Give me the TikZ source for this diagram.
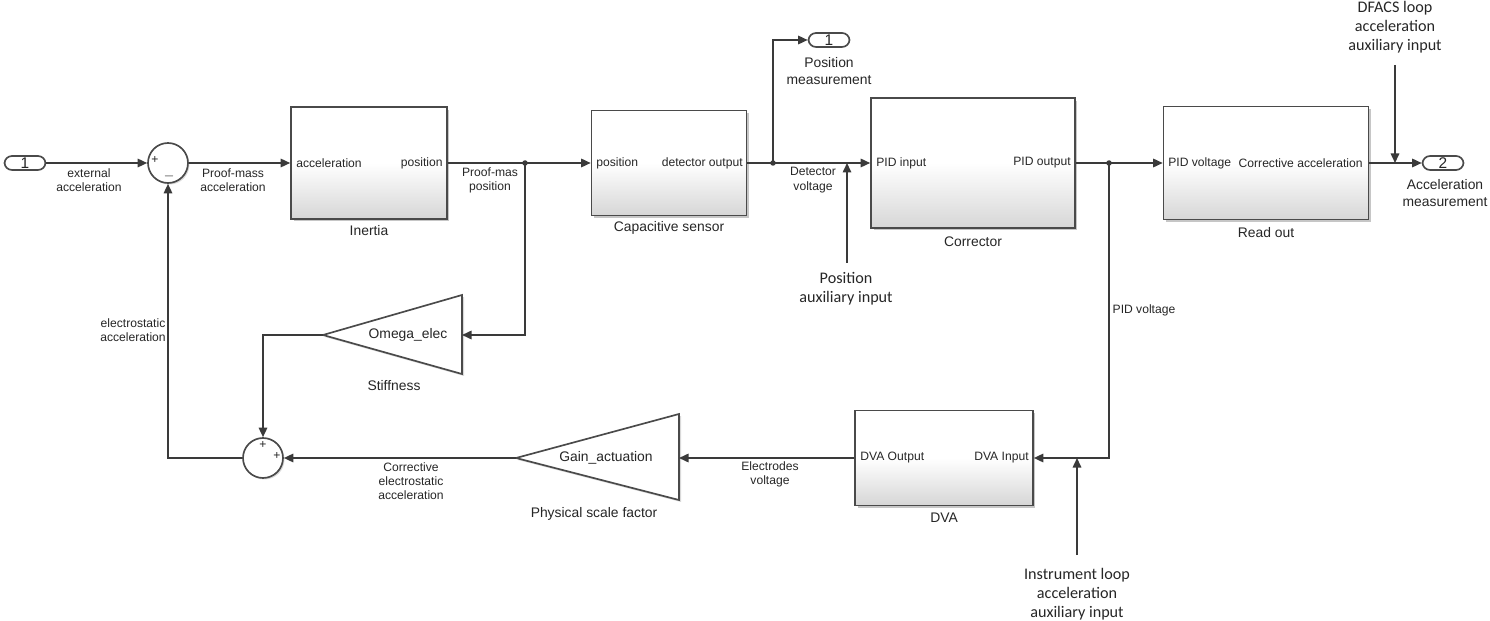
\documentclass[tikz,border=0pt]{standalone}
\usepackage{fontspec}
\setmainfont{Liberation Sans}
\newfontfamily\calib{Carlito}
\usetikzlibrary{arrows.meta,shadows}
\definecolor{linec}{HTML}{3A3A3A}
\definecolor{bordc}{HTML}{4A4A4A}
\definecolor{txtc}{HTML}{262626}
\begin{document}
\begin{tikzpicture}[x=0.02cm,y=-0.02cm,
  wire/.style={draw=linec, line width=0.9pt},
  arr/.style={wire, -{Triangle[length=0.19cm,width=0.17cm]}},
  block/.style={draw=bordc, line width=0.95pt, top color=white, bottom color=gray!32, middle color=white,
    drop shadow={shadow xshift=0.05cm, shadow yshift=-0.05cm, opacity=0.45}, inner sep=0pt},
  tri/.style={draw=bordc, line width=0.95pt, fill=white, line join=miter,
    drop shadow={shadow xshift=0.04cm, shadow yshift=-0.04cm, opacity=0.3}},
  sumblk/.style={circle, draw=bordc, line width=0.95pt, fill=white, minimum size=0.8cm, inner sep=0pt,
    drop shadow={shadow xshift=0.03cm, shadow yshift=-0.03cm, opacity=0.3}},
  port/.style={draw=bordc, line width=0.95pt, fill=white, rounded corners=0.15cm, minimum width=0.82cm,
    minimum height=0.28cm, inner sep=0pt, font=\fontsize{8.8}{9}\selectfont, text=txtc},
  lbl/.style={font=\fontsize{6.9}{8.1}\selectfont, align=center, text=txtc, inner sep=0pt},
  nlbl/.style={font=\fontsize{7.9}{9.2}\selectfont, align=center, text=txtc, inner sep=0pt},
  plbl/.style={font=\fontsize{6.9}{8.1}\selectfont, text=txtc, inner sep=0pt},
  aux/.style={font=\calib\fontsize{9.2}{10.9}\selectfont, align=center, text=txtc, inner sep=0pt},
  dot/.style={fill=linec}
]
\useasboundingbox (0,0) rectangle (1490,621);

% ---- blocks
\node[block, minimum width=3.12cm, minimum height=2.24cm] (inertia) at (369,163) {};
\node[block, minimum width=3.10cm, minimum height=2.10cm] (cap) at (669,163) {};
\node[block, minimum width=4.08cm, minimum height=2.60cm] (corr) at (973,163) {};
\node[block, minimum width=4.10cm, minimum height=2.26cm] (readout) at (1266,163) {};
\node[block, minimum width=3.56cm, minimum height=1.90cm] (dva) at (944,458) {};

% port labels
\node[plbl, anchor=west] (pi1) at (296,163) {acceleration};
\node[plbl, anchor=east] (po1) at (443,163) {position};
\node[plbl, anchor=west] (pi2) at (596,163) {position};
\node[plbl, anchor=east] (po2) at (743,163) {detector output};
\node[plbl, anchor=west] (pi3) at (876,163) {PID input};
\node[plbl, anchor=east] (po3) at (1071,163) {PID output};
\node[plbl, anchor=west] (pi4) at (1168,163) {PID voltage};
\node[plbl, anchor=east] (po4) at (1363,163) {Corrective acceleration};
\node[plbl, anchor=west] (pi5) at (860,458) {DVA Output};
\node[plbl, anchor=east] (po5) at (1029,458) {DVA Input};

% block names
\node[nlbl] (ninertia) at (369,231) {Inertia};
\node[nlbl] (ncap) at (669,228) {Capacitive sensor};
\node[nlbl] (ncorr) at (973,242) {Corrector};
\node[nlbl] (nread) at (1266,233) {Read out};
\node[nlbl] (ndva) at (944,518) {DVA};

% ---- triangles (gains)
\draw[tri] (462,295) -- (462,374) -- (323,335) -- cycle;
\coordinate (ob) at (462,335);
\coordinate (ot) at (323,335);
\node[nlbl] (omtxt) at (408,335) {Omega\_elec};
\node[nlbl] (stiff) at (394,386) {Stiffness};

\draw[tri] (679,414) -- (679,500) -- (516,458) -- cycle;
\coordinate (gb) at (679,458);
\coordinate (gt) at (516,458);
\node[nlbl] (gtxt) at (606,458) {Gain\_actuation};
\node[nlbl] (psf) at (594,514) {Physical scale factor};

% ---- sums
\node[sumblk] (s1) at (168,163) {};
\node[lbl] (s1p) at (155,160) {+};
\node[lbl] (s1m) at (169,176) {$-$};
\node[sumblk] (s2) at (263,458) {};
\node[lbl] (s2p1) at (263,445) {+};
\node[lbl] (s2p2) at (277,456) {+};

% ---- in/out ports
\node[port] (in1) at (25,163) {1};
\node[port] (out1) at (829,40) {1};
\node[port] (out2) at (1443,163) {2};

% ---- junctions and free ends
\coordinate (j1) at (525,163);
\coordinate (j2) at (773,163);
\coordinate (j3) at (1109,163);
\coordinate (pa) at (847,263);
\coordinate (pm) at (847,163);
\coordinate (da) at (1395,65);
\coordinate (dm) at (1395,163);
\coordinate (ia) at (1077,555);
\coordinate (im) at (1077,458);

% ---- connectors
\draw[arr] (in1) -- (s1);
\draw[arr] (s1) -- (inertia);
\draw[wire] (inertia) -- (j1);
\draw[arr] (j1) -- (cap);
\draw[arr] (j1) |- (ob);
\draw[arr] (ot) -| (s2);
\draw[arr] (s2) -| (s1);
\draw[arr] (gt) -- (s2);
\draw[arr] (dva) -- (gb);
\draw[wire] (cap) -- (j2);
\draw[arr] (j2) -- (corr);
\draw[arr] (j2) |- (out1);
\draw[arr] (pa) -- (pm);
\draw[wire] (corr) -- (j3);
\draw[arr] (j3) -- (readout);
\draw[arr] (j3) |- (dva);
\draw[arr] (ia) -- (im);
\draw[arr] (readout) -- (out2);
\draw[arr] (da) -- (dm);
\fill[dot] (j1) circle (0.055cm);
\fill[dot] (j2) circle (0.055cm);
\fill[dot] (j3) circle (0.055cm);

% ---- signal labels
\node[lbl] (lext) at (89,180) {external\\acceleration};
\node[lbl] (lpma) at (233,180) {Proof-mass\\acceleration};
\node[lbl] (lpmp) at (490,180) {Proof-mas\\position};
\node[lbl] (ldv) at (813,180) {Detector\\voltage};
\node[nlbl] (lpos) at (829,71) {Position\\measurement};
\node[nlbl] (lacc) at (1445,193) {Acceleration\\measurement};
\node[lbl] (lpid) at (1144,310) {PID voltage};
\node[lbl] (lel) at (133,330) {electrostatic\\acceleration};
\node[lbl] (lce) at (411,481) {Corrective\\electrostatic\\acceleration};
\node[lbl] (lev) at (770,474) {Electrodes\\voltage};

\node[aux] (tpa) at (846,289) {Position\\auxiliary input};
\node[aux] (tda) at (1395,27) {DFACS loop\\acceleration\\auxiliary input};
\node[aux] (tia) at (1077,594) {Instrument loop\\acceleration\\auxiliary input};
\end{tikzpicture}
\end{document}
